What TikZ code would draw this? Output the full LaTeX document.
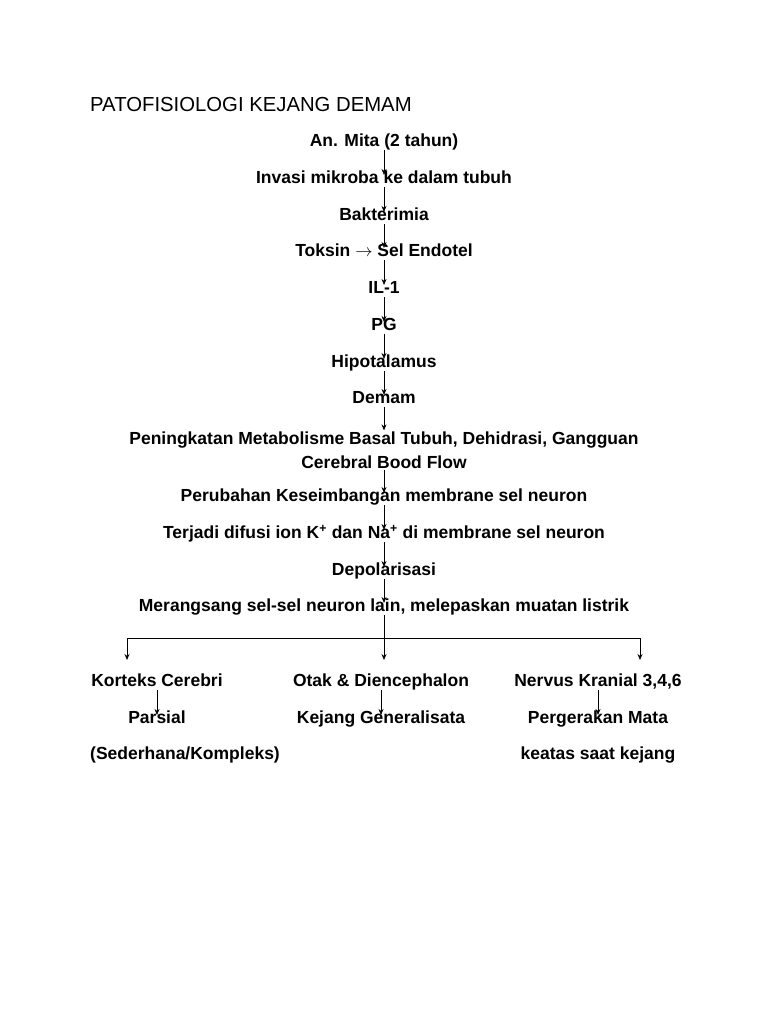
\documentclass[tikz,border=0pt]{standalone}
\usepackage{fontspec}
\usetikzlibrary{arrows.meta}
\setmainfont{Liberation Sans}
\begin{document}
\begin{tikzpicture}[x=1pt,y=-1pt,
  t/.style={font=\bfseries\fontsize{17.5}{20}\selectfont,inner sep=1pt,text height=0.75em,text depth=0.22em},
  ar/.style={-{Stealth[length=6pt,width=5pt]},line width=0.7pt}]
\useasboundingbox (0,0) rectangle (768,1024);
\node[anchor=west,font=\fontsize{20.3}{23}\selectfont,inner sep=0] at (90,105) {PATOFISIOLOGI KEJANG DEMAM};
\node[t] (a) at (384,144) {An. Mita (2 tahun)};
\node[t] (b) at (384,181) {Invasi mikroba ke dalam tubuh};
\node[t] (c) at (384,218) {Bakterimia};
\node[t] (d) at (384,254) {Toksin $\rightarrow$ Sel Endotel};
\node[t] (e) at (384,291) {IL-1};
\node[t] (f) at (384,328) {PG};
\node[t] (g) at (384,365) {Hipotalamus};
\node[t] (h) at (384,401) {Demam};
\node[t,align=center,text height=,text depth=] (i) at (384,450) {Peningkatan Metabolisme Basal Tubuh, Dehidrasi, Gangguan\\[4pt]Cerebral Bood Flow};
\node[t] (j) at (384,499) {Perubahan Keseimbangan membrane sel neuron};
\node[t] (k) at (384,536) {Terjadi difusi ion K\textsuperscript{+} dan Na\textsuperscript{+} di membrane sel neuron};
\node[t] (l) at (384,573) {Depolarisasi};
\node[t] (m) at (384,609) {Merangsang sel-sel neuron lain, melepaskan muatan listrik};
\foreach \p/\q in {a/b,b/c,c/d,d/e,e/f,f/g,g/h,h/i,i/j,j/k,k/l,l/m} \draw[ar] (\p) -- (\q);
\coordinate (s) at (384,638);
\coordinate (sl) at (127,638);
\coordinate (sr) at (640,638);
\coordinate (el) at (127,660);
\coordinate (ec) at (384,660);
\coordinate (er) at (640,660);
\draw[line width=0.7pt] (m) -- (s);
\draw[line width=0.7pt] (sl) -- (sr);
\draw[ar] (sl) -- (el);
\draw[ar] (s) -- (ec);
\draw[ar] (sr) -- (er);
\node[t] (n1) at (157,684) {Korteks Cerebri};
\node[t] (n2) at (381,684) {Otak \& Diencephalon};
\node[t] (n3) at (598,684) {Nervus Kranial 3,4,6};
\node[t] (p1) at (157,721) {Parsial};
\node[t] (p2) at (381,721) {Kejang Generalisata};
\node[t] (p3) at (598,721) {Pergerakan Mata};
\node[t] (q1) at (185,757) {(Sederhana/Kompleks)};
\node[t] (q3) at (598,757) {keatas saat kejang};
\draw[ar] (n1) -- (p1);
\draw[ar] (n2) -- (p2);
\draw[ar] (n3) -- (p3);
\end{tikzpicture}
\end{document}
